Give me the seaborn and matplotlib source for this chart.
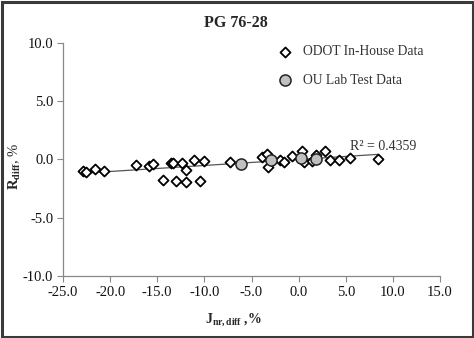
import numpy as np
import pandas as pd
import seaborn as sns
import matplotlib
matplotlib.use("Agg")
import matplotlib.pyplot as plt
from matplotlib.patches import Rectangle

# ODOT in-house measurements: J_nr,diff (%) vs R_diff (%)
odot_jnr = [-22.9, -22.6, -21.6, -20.6, -17.3, -15.9, -15.5, -14.4, -13.5, -13.3,
            -13.0, -12.4, -12.0, -12.0, -11.1, -10.5, -10.0, -7.3, -3.9, -3.4,
            -3.2, -2.9, -2.0, -1.5, -0.7, 0.2, 0.35, 0.6, 1.4, 1.8, 2.8, 3.3,
            4.3, 5.4, 8.4]
odot_r = [-0.97, -1.10, -0.86, -0.97, -0.49, -0.60, -0.40, -1.74, -0.31, -0.34,
          -1.89, -0.31, -0.91, -1.97, -0.03, -1.83, -0.17, -0.26, 0.17, 0.46,
          -0.63, -0.05, -0.03, -0.20, 0.29, 0.05, 0.74, -0.20, -0.11, 0.40, 0.71,
          -0.03, -0.03, 0.14, 0.03]

# OU lab test results
ou_jnr = [-6.1, -2.9, 0.25, 1.8]
ou_r = [-0.40, -0.06, 0.11, 0.00]

r_squared = 0.4359
x_ticks = [-25.0, -20.0, -15.0, -10.0, -5.0, 0.0, 5.0, 10.0, 15.0]
y_ticks = [-10.0, -5.0, 0.0, 5.0, 10.0]

odot = pd.DataFrame({"jnr": odot_jnr, "r": odot_r})
ou = pd.DataFrame({"jnr": ou_jnr, "r": ou_r})

sns.set_style("white")
plt.rcParams["font.family"] = ["Liberation Serif", "DejaVu Serif"]
plt.rcParams["axes.unicode_minus"] = False
plt.rcParams["mathtext.fontset"] = "custom"
plt.rcParams["mathtext.rm"] = "Liberation Serif"
plt.rcParams["mathtext.bf"] = "Liberation Serif:bold"
plt.rcParams["mathtext.it"] = "Liberation Serif:italic"

fig = plt.figure(figsize=(4.74, 3.38), dpi=100)
W, H = 474, 338
ax_w = 440 - 63
ax_h = 276 - 42.7
ax = fig.add_axes([63 / W, 1 - 276 / H, ax_w / W, ax_h / H])

# linear trendline through the in-house data
sns.regplot(data=odot, x="jnr", y="r", ax=ax, scatter=False, ci=None,
            truncate=True, line_kws=dict(color="#555555", lw=0.9, zorder=1))

sns.scatterplot(data=odot, x="jnr", y="r", ax=ax, marker="D", s=26,
                facecolor="white", edgecolor="black", linewidth=1.3,
                label="ODOT In-House Data", zorder=3)
sns.scatterplot(data=ou, x="jnr", y="r", ax=ax, marker="o", s=64,
                facecolor="#c0c0c0", edgecolor="#222222", linewidth=1.1,
                label="OU Lab Test Data", zorder=4)

ax.text(5.4, 1.1, f"R² = {r_squared:.4f}", ha="left", va="center",
        fontsize=10, color="#333333")

ax.set_xlim(-25, 15)
ax.set_ylim(-10, 10)
ax.set_xticks(x_ticks)
ax.set_yticks(y_ticks)
ax.set_xticklabels([f"{v:.1f}" for v in x_ticks])
ax.set_yticklabels([f"{v:.1f}" for v in y_ticks])
ax.tick_params(axis="both", labelsize=10.5, colors="#888888", labelcolor="#111111",
               direction="out", length=4, width=0.8, pad=3, bottom=True, left=True)

for side in ("top", "right"):
    ax.spines[side].set_visible(False)
for side in ("left", "bottom"):
    ax.spines[side].set_color("#888888")
    ax.spines[side].set_linewidth(0.9)

ax.set_xlabel(r"$\mathbf{J_{nr,diff}}$ ,%", fontsize=10, fontweight="bold")
ax.set_ylabel(r"$\mathbf{R_{diff}}$, %", fontsize=10.5)
ax.xaxis.set_label_coords((233 - 63) / ax_w, -(312 - 276) / ax_h)
ax.yaxis.set_label_coords(-(63 - 23) / ax_w, 0.47)

fig.text(236 / W, 1 - 23 / H, "PG 76-28", ha="center", va="center",
         fontsize=11.5, fontweight="bold")

leg = ax.legend(loc="upper left",
                bbox_to_anchor=((266 - 63) / ax_w, 1 + 3 / ax_h),
                frameon=False, fontsize=9.8, labelspacing=1.15, handletextpad=0.3,
                borderaxespad=0)
for t in leg.get_texts():
    t.set_color("#333333")

# chart frame
fig.patches.append(Rectangle((1.5 / W, 1.5 / H), 1 - 3 / W, 1 - 3 / H,
                             transform=fig.transFigure, fill=False,
                             edgecolor="#3a3a3a", linewidth=2.2))

fig.savefig("out.png", dpi=100)
